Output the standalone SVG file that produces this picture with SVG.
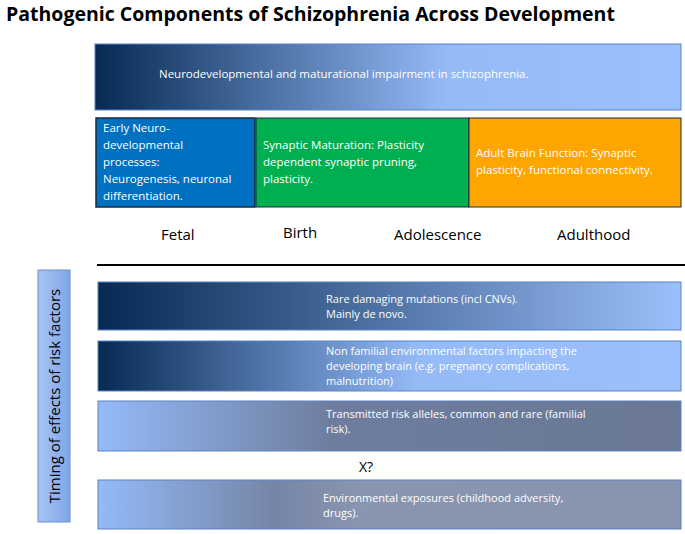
<svg xmlns="http://www.w3.org/2000/svg" width="685" height="534" viewBox="0 0 685 534">
<style>
text{font-family:"Open Sans","Liberation Sans",sans-serif}
.w{fill:#fff;font-size:11px}
.s{fill:#fff;font-size:11.5px}
.l{fill:#000;font-size:15px}
.b{stroke:#5a84c4;stroke-width:1}
</style>
<defs>
<linearGradient id="g0" x1="0" x2="1"><stop offset="0" stop-color="#062a52"/><stop offset="0.6" stop-color="#94baf8"/><stop offset="1" stop-color="#9cc0fb"/></linearGradient>
<linearGradient id="g1" x1="0" x2="1"><stop offset="0" stop-color="#062a52"/><stop offset="1" stop-color="#9cc0fb"/></linearGradient>
<linearGradient id="g2" x1="0" x2="1"><stop offset="0" stop-color="#062a52"/><stop offset="0.55" stop-color="#94baf8"/><stop offset="1" stop-color="#9cc0fb"/></linearGradient>
<linearGradient id="g3" x1="0" x2="1"><stop offset="0" stop-color="#94baf8"/><stop offset="0.4" stop-color="#6e7d9e"/><stop offset="1" stop-color="#6a7896"/></linearGradient>
<linearGradient id="g4" x1="0" x2="1"><stop offset="0" stop-color="#94baf8"/><stop offset="0.3" stop-color="#7585a6"/><stop offset="0.45" stop-color="#8a96b0"/><stop offset="1" stop-color="#8893ad"/></linearGradient>
<linearGradient id="gv" x1="0" x2="1"><stop offset="0" stop-color="#a7c5f5"/><stop offset="1" stop-color="#7fa5e8"/></linearGradient>
</defs>
<text x="6" y="21" style="font-size:19.5px;font-weight:bold;fill:#000">Pathogenic Components of Schizophrenia Across Development</text>
<g id="banner"><rect x="95" y="44" width="586" height="66" fill="url(#g0)" class="b"/><text x="159" y="78" class="s">Neurodevelopmental and maturational impairment in schizophrenia.</text></g>
<g id="fetal-box"><rect x="96" y="118" width="159" height="89" fill="#0070c0" stroke="#1a2a40" stroke-width="1.5"/><text class="s"><tspan x="103" y="132">Early  Neuro-</tspan><tspan x="103" y="149">developmental</tspan><tspan x="103" y="166">processes:</tspan><tspan x="103" y="183">Neurogenesis, neuronal</tspan><tspan x="103" y="200">differentiation.</tspan></text></g>
<g id="synaptic-box"><rect x="256" y="118" width="213" height="89" fill="#00b050" stroke="#1a2a40" stroke-width="1"/><text class="s"><tspan x="263" y="149">Synaptic Maturation: Plasticity</tspan><tspan x="263" y="166">dependent synaptic pruning,</tspan><tspan x="263" y="183">plasticity.</tspan></text></g>
<g id="adult-box"><rect x="469" y="118" width="212" height="89" fill="#ffa500" stroke="#1a2a40" stroke-width="1"/><text class="s"><tspan x="476" y="157">Adult Brain Function: Synaptic</tspan><tspan x="476" y="174">plasticity, functional connectivity.</tspan></text></g>
<g id="labels"><text x="161" y="240" class="l">Fetal</text><text x="283" y="238" class="l">Birth</text><text x="394" y="240" class="l">Adolescence</text><text x="557" y="240" class="l">Adulthood</text></g>
<g id="connectors"><line x1="97" y1="265" x2="685" y2="265" stroke="#000" stroke-width="2"/></g>
<g id="axis-label"><rect x="38" y="270" width="32" height="252" fill="url(#gv)" stroke="#6a90d0"/><text transform="translate(60 396) rotate(-90)" text-anchor="middle" style="font-size:15px;fill:#000">Timing of effects of risk factors</text></g>
<g id="r1"><rect x="98" y="282" width="583" height="48" fill="url(#g1)" class="b"/><text class="w"><tspan x="326" y="303">Rare damaging mutations (incl CNVs).</tspan><tspan x="326" y="318">Mainly de novo.</tspan></text></g>
<g id="r2"><rect x="98" y="341" width="583" height="50" fill="url(#g2)" class="b"/><text class="w"><tspan x="326" y="355">Non familial environmental factors impacting the</tspan><tspan x="326" y="370">developing brain (e.g. pregnancy complications,</tspan><tspan x="326" y="385">malnutrition)</tspan></text></g>
<g id="r3"><rect x="98" y="401" width="583" height="50" fill="url(#g3)" class="b"/><text class="w"><tspan x="326" y="418">Transmitted  risk alleles, common and rare (familial</tspan><tspan x="326" y="433">risk).</tspan></text></g>
<text x="359" y="472" style="font-size:14px;fill:#000">X?</text>
<g id="r4"><rect x="98" y="480" width="583" height="49" fill="url(#g4)" class="b"/><text class="w"><tspan x="323" y="502">Environmental exposures (childhood adversity,</tspan><tspan x="323" y="517">drugs).</tspan></text></g>
</svg>
